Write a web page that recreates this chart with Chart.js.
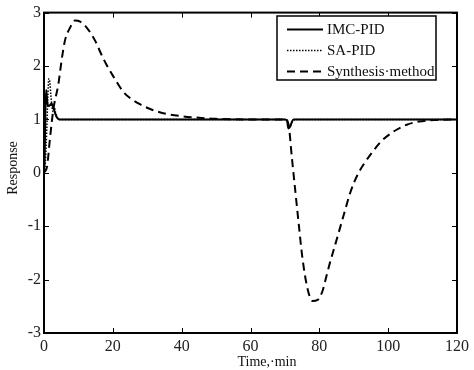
<!DOCTYPE html>
<html>
<head>
<meta charset="utf-8">
<script src="https://cdn.jsdelivr.net/npm/chart.js@4/dist/chart.umd.min.js"></script>
<style>
html,body{margin:0;padding:0;background:#fff;}
#wrap{width:474px;height:370px;position:relative;}
</style>
</head>
<body>
<div id="wrap"><canvas id="c" width="474" height="370"></canvas></div>
<script>
// ---- data ----
const seriesLabels = ["IMC-PID", "SA-PID", "Synthesis\u00b7method"];
const xTitle = "Time,\u00b7min";
const yTitle = "Response";
const xTicks = [0, 20, 40, 60, 80, 100, 120];
const yTicks = [-3, -2, -1, 0, 1, 2, 3];

const imcT = [0, 0.2, 0.4, 0.6, 0.8, 1.0, 1.4, 1.8, 2.2, 2.7, 3.2, 3.7, 4.5, 10, 20, 30, 40, 50, 60, 70, 70.6, 71.0, 71.5, 72.0, 72.5, 73.5, 80, 90, 100, 110, 120];
const imcY = [0, 0.3, 1.1, 1.55, 1.45, 1.3, 1.25, 1.27, 1.3, 1.22, 1.12, 1.04, 1.0, 1.0, 1.0, 1.0, 1.0, 1.0, 1.0, 1.0, 0.98, 0.83, 0.86, 0.95, 1.0, 1.0, 1.0, 1.0, 1.0, 1.0, 1.0];

const saT = [0, 0.4, 0.8, 1.1, 1.4, 1.7, 2.0, 2.3, 2.6, 3.0, 3.4, 3.8, 4.3, 10, 20, 30, 40, 50, 60, 70, 70.8, 71.2, 71.7, 72.3, 73, 80, 90, 100, 110, 120];
const saY = [0, 0.2, 0.8, 1.4, 1.76, 1.7, 1.45, 1.25, 1.15, 1.22, 1.12, 1.05, 1.0, 1.0, 1.0, 1.0, 1.0, 1.0, 1.0, 1.0, 0.98, 0.87, 0.9, 0.97, 1.0, 1.0, 1.0, 1.0, 1.0, 1.0];

const synT = [0, 0.9, 1.7, 2.7, 4.2, 5.1, 6.1, 7.6, 9, 10.5, 12.4, 14.8, 17, 18.2, 20, 23, 25, 28, 31, 35, 40, 45, 50, 60, 70, 71, 72, 73, 74, 75, 76.5, 78, 79.5, 81, 82, 83.1, 84.5, 87, 89, 91, 93, 95.2, 98, 101.5, 105.4, 109, 114, 120];
const synY = [0, 0.12, 0.62, 1.18, 1.67, 2.1, 2.48, 2.72, 2.85, 2.83, 2.72, 2.48, 2.17, 2.02, 1.82, 1.52, 1.4, 1.28, 1.19, 1.11, 1.06, 1.03, 1.01, 1.0, 1.0, 0.92, 0.3, -0.33, -0.95, -1.55, -2.15, -2.4, -2.38, -2.2, -1.95, -1.68, -1.37, -0.81, -0.37, -0.05, 0.17, 0.37, 0.59, 0.77, 0.9, 0.96, 0.99, 1.0];

const toPts = (t, y) => t.map((v, i) => ({x: v, y: y[i]}));

const FONT = "'Liberation Serif', 'Times New Roman', serif";

const framePlugin = {
  id: 'frame',
  afterDraw(chart) {
    const ctx = chart.ctx;
    const a = chart.chartArea;
    const xs = chart.scales.x, ys = chart.scales.y;
    ctx.save();
    // inward ticks
    ctx.strokeStyle = '#000';
    ctx.lineWidth = 1;
    const tl = 5;
    ctx.beginPath();
    xTicks.forEach(v => {
      const px = Math.round(xs.getPixelForValue(v)) + 0.5;
      ctx.moveTo(px, a.bottom); ctx.lineTo(px, a.bottom - tl);
      ctx.moveTo(px, a.top); ctx.lineTo(px, a.top + tl);
    });
    yTicks.forEach(v => {
      const py = Math.round(ys.getPixelForValue(v)) + 0.5;
      ctx.moveTo(a.left, py); ctx.lineTo(a.left + tl, py);
      ctx.moveTo(a.right, py); ctx.lineTo(a.right - tl, py);
    });
    ctx.stroke();
    // frame
    ctx.lineWidth = 2;
    ctx.strokeRect(a.left, a.top, a.right - a.left, a.bottom - a.top);

    // axis titles
    ctx.fillStyle = '#111';
    ctx.font = "14px " + FONT;
    ctx.textAlign = 'center';
    ctx.textBaseline = 'middle';
    ctx.fillText(xTitle, 267, 362);
    ctx.save();
    ctx.translate(13, 168);
    ctx.rotate(-Math.PI / 2);
    ctx.fillText(yTitle, 0, 0);
    ctx.restore();

    // legend
    const bx = 277, by = 16, bw = 159, bh = 64;
    ctx.fillStyle = '#fff';
    ctx.fillRect(bx, by, bw, bh);
    ctx.lineWidth = 1.5;
    ctx.strokeStyle = '#000';
    ctx.strokeRect(bx, by, bw, bh);
    const rows = [29, 50, 71];
    chart.data.datasets.forEach((ds, i) => {
      const y = rows[i] + 0.5;
      ctx.save();
      ctx.strokeStyle = ds.borderColor;
      ctx.lineWidth = ds.borderWidth;
      ctx.setLineDash(ds.borderDash || []);
      ctx.beginPath();
      ctx.moveTo(287, y); ctx.lineTo(323, y);
      ctx.stroke();
      ctx.restore();
      ctx.fillStyle = '#111';
      ctx.font = "15px " + FONT;
      ctx.textAlign = 'left';
      ctx.textBaseline = 'middle';
      ctx.fillText(ds.label, 327, rows[i] + 1);
    });
    ctx.restore();
  }
};

new Chart(document.getElementById('c'), {
  type: 'line',
  data: {
    datasets: [
      {label: seriesLabels[0], data: toPts(imcT, imcY), borderColor: '#000', borderWidth: 2, pointRadius: 0, cubicInterpolationMode: 'monotone', fill: false},
      {label: seriesLabels[1], data: toPts(saT, saY), borderColor: '#000', borderWidth: 1.5, borderDash: [1.5, 1.5], pointRadius: 0, cubicInterpolationMode: 'monotone', fill: false},
      {label: seriesLabels[2], data: toPts(synT, synY), borderColor: '#000', borderWidth: 2, borderDash: [8, 5], pointRadius: 0, cubicInterpolationMode: 'monotone', fill: false}
    ]
  },
  options: {
    responsive: false,
    animation: false,
    layout: {padding: {left: 0, top: 10, right: 17, bottom: 0}},
    plugins: {legend: {display: false}, tooltip: {enabled: false}},
    scales: {
      x: {
        type: 'linear', min: 0, max: 120,
        afterBuildTicks: s => { s.ticks = xTicks.map(v => ({value: v})); },
        ticks: {color: '#222', font: {family: FONT, size: 16}, padding: 4, maxRotation: 0},
        grid: {display: false, drawTicks: false},
        border: {display: false},
        afterFit: s => { s.height = 37; }
      },
      y: {
        type: 'linear', min: -3, max: 3,
        afterBuildTicks: s => { s.ticks = yTicks.map(v => ({value: v})); },
        ticks: {color: '#222', font: {family: FONT, size: 16}, padding: 3},
        grid: {display: false, drawTicks: false},
        border: {display: false},
        afterFit: s => { s.width = 44; }
      }
    }
  },
  plugins: [framePlugin]
});
</script>
</body>
</html>
